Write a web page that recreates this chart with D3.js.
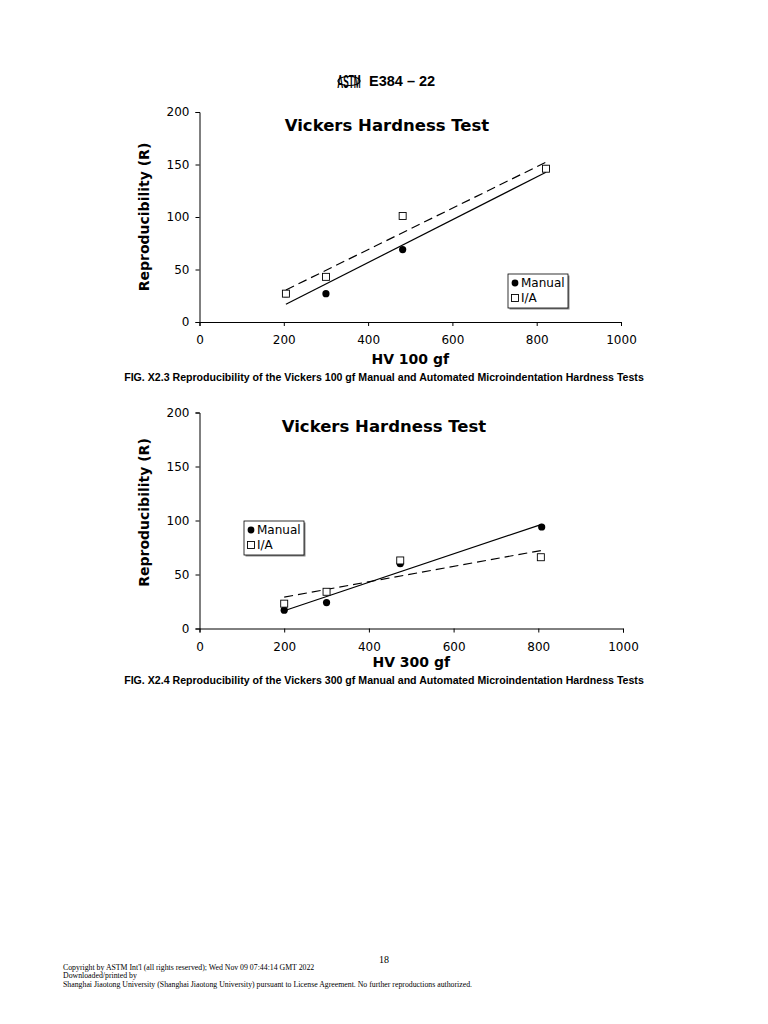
<!DOCTYPE html>
<html>
<head>
<meta charset="utf-8">
<script src="https://cdn.jsdelivr.net/npm/d3@7"></script>
<style>
  body { margin: 0; background: #fff; }
  svg { display: block; }
</style>
</head>
<body>
<div id="page"></div>
<script>
// Data
const xTicks = [0, 200, 400, 600, 800, 1000];
const yTicks = [0, 50, 100, 150, 200];

// FIG. X2.3 - HV 100 gf
const hv100ManualX = [205, 300, 482, 822];
const hv100ManualY = [27, 27, 69, 146];
const hv100IaX = [205, 300, 482, 822];
const hv100IaY = [27, 43, 101, 146];

// FIG. X2.4 - HV 300 gf
const hv300ManualX = [200, 300, 474, 808];
const hv300ManualY = [17, 24, 60, 94];
const hv300IaX = [200, 300, 474, 806];
const hv300IaY = [23, 34, 63, 66];

const W = 768, H = 1024;

const svg = d3.select('#page')
  .append('svg')
  .attr('width', W)
  .attr('height', H);

// least squares trendline, like the spreadsheet did
function trend(xs, ys) {
  const mx = d3.mean(xs), my = d3.mean(ys);
  const sxy = d3.sum(xs, (x, i) => (x - mx) * (ys[i] - my));
  const sxx = d3.sum(xs, x => (x - mx) * (x - mx));
  const slope = sxy / sxx;
  const b = my - slope * mx;
  const x0 = d3.min(xs), x1 = d3.max(xs);
  return [[x0, slope * x0 + b], [x1, slope * x1 + b]];
}

function drawChart(opt) {
  const x = d3.scaleLinear().domain([0, 1000]).range([opt.left, opt.right]);
  const y = d3.scaleLinear().domain([0, 200]).range([opt.bottom, opt.top]);

  const g = svg.append('g');

  // axes
  const xAxis = d3.axisBottom(x).tickValues(xTicks).tickFormat(d3.format('d')).tickSize(4).tickPadding(6);
  const xg = g.append('g')
    .attr('transform', `translate(0,${opt.bottom})`)
    .call(xAxis);
  const yAxis = d3.axisLeft(y).tickValues(yTicks).tickFormat(d3.format('d')).tickSize(4).tickPadding(6);
  const yg = g.append('g')
    .attr('transform', `translate(${opt.left},0)`)
    .call(yAxis);

  [xg, yg].forEach(a => {
    a.select('.domain').attr('stroke', '#000');
    a.selectAll('.tick line').attr('stroke', '#000');
    a.selectAll('text')
      .attr('fill', '#000')
      .style('font-family', 'DejaVu Sans, Verdana, sans-serif')
      .style('font-size', '12px');
  });
  xg.selectAll('text').attr('dy', '1em');

  // trendlines
  const line = d3.line().x(d => x(d[0])).y(d => y(d[1]));
  g.append('path')
    .attr('d', line(trend(opt.manualX, opt.manualY)))
    .attr('stroke', '#000')
    .attr('stroke-width', 1.2)
    .attr('fill', 'none');
  g.append('path')
    .attr('d', line(trend(opt.iaX, opt.iaY)))
    .attr('stroke', '#000')
    .attr('stroke-width', 1.2)
    .attr('stroke-dasharray', '9,5')
    .attr('fill', 'none');

  // manual dots first, squares are drawn over them
  g.selectAll('circle.manual')
    .data(opt.manualX)
    .enter()
    .append('circle')
    .attr('class', 'manual')
    .attr('cx', d => x(d))
    .attr('cy', (d, i) => y(opt.manualY[i]))
    .attr('r', 3.6)
    .attr('fill', '#000');

  // I/A squares
  g.selectAll('rect.ia')
    .data(opt.iaX)
    .enter()
    .append('rect')
    .attr('class', 'ia')
    .attr('x', d => x(d) - 3.5)
    .attr('y', (d, i) => y(opt.iaY[i]) - 3.5)
    .attr('width', 7)
    .attr('height', 7)
    .attr('fill', '#fff')
    .attr('stroke', '#000')
    .attr('stroke-width', 0.9);

  // title
  g.append('text')
    .attr('x', opt.titleX)
    .attr('y', opt.top + 19)
    .attr('text-anchor', 'middle')
    .style('font-family', 'DejaVu Sans, Verdana, sans-serif')
    .style('font-weight', 'bold')
    .style('font-size', '16.5px')
    .text('Vickers Hardness Test');

  // axis titles
  g.append('text')
    .attr('x', (opt.left + opt.right) / 2)
    .attr('y', opt.bottom + opt.xLabelDy)
    .attr('text-anchor', 'middle')
    .style('font-family', 'DejaVu Sans, Verdana, sans-serif')
    .style('font-weight', 'bold')
    .style('font-size', '14px')
    .text(opt.xLabel);

  g.append('text')
    .attr('transform', `translate(${opt.left - 51},${(opt.top + opt.bottom) / 2 + opt.yLabelDy}) rotate(-90)`)
    .attr('text-anchor', 'middle')
    .style('font-family', 'DejaVu Sans, Verdana, sans-serif')
    .style('font-weight', 'bold')
    .style('font-size', '14px')
    .text('Reproducibility (R)');

  // legend
  const lg = g.append('g').attr('transform', `translate(${opt.legendX},${opt.legendY})`);
  lg.append('rect')
    .attr('x', 1.5).attr('y', 1.5)
    .attr('width', 60).attr('height', 34)
    .attr('fill', '#888');
  lg.append('rect')
    .attr('width', 60).attr('height', 34)
    .attr('fill', '#fff')
    .attr('stroke', '#000')
    .attr('stroke-width', 0.8);
  lg.append('circle').attr('cx', 7).attr('cy', 9).attr('r', 3.4).attr('fill', '#000');
  lg.append('rect').attr('x', 3.5).attr('y', 20.5).attr('width', 7).attr('height', 7)
    .attr('fill', '#fff').attr('stroke', '#000').attr('stroke-width', 0.9);
  lg.selectAll('text.leg')
    .data(['Manual', 'I/A'])
    .enter()
    .append('text')
    .attr('class', 'leg')
    .attr('x', 13)
    .attr('y', (d, i) => 13 + i * 15)
    .style('font-family', 'DejaVu Sans, Verdana, sans-serif')
    .style('font-size', '12px')
    .text(d => d);

  // caption
  g.append('text')
    .attr('x', 384)
    .attr('y', opt.captionY)
    .attr('text-anchor', 'middle')
    .style('font-family', 'Liberation Sans, Arial, sans-serif')
    .style('font-weight', 'bold')
    .style('font-size', '10.6px')
    .text(opt.caption);
}

drawChart({
  left: 199.5, right: 621, top: 112, bottom: 322,
  titleX: 387, xLabel: 'HV 100 gf', xLabelDy: 42, yLabelDy: 0,
  manualX: hv100ManualX, manualY: hv100ManualY,
  iaX: hv100IaX, iaY: hv100IaY,
  legendX: 508, legendY: 274,
  captionY: 381,
  caption: 'FIG. X2.3 Reproducibility of the Vickers 100 gf Manual and Automated Microindentation Hardness Tests'
});

drawChart({
  left: 199.5, right: 623, top: 412.5, bottom: 628.5,
  titleX: 384, xLabel: 'HV 300 gf', xLabelDy: 38, yLabelDy: -8,
  manualX: hv300ManualX, manualY: hv300ManualY,
  iaX: hv300IaX, iaY: hv300IaY,
  legendX: 244, legendY: 521,
  captionY: 684,
  caption: 'FIG. X2.4 Reproducibility of the Vickers 300 gf Manual and Automated Microindentation Hardness Tests'
});

// header: ASTM mark + designation
const logo = svg.append('g').attr('transform', 'translate(349,81)');
logo.append('ellipse').attr('rx', 11).attr('ry', 4.5).attr('fill', 'none').attr('stroke', '#000').attr('stroke-width', 1.2);
logo.append('text')
  .attr('text-anchor', 'middle')
  .attr('y', 4)
  .style('font-family', 'Liberation Sans, Arial, sans-serif')
  .style('font-weight', 'bold')
  .style('font-size', '11px')
  .attr('transform', 'scale(0.75,1.7)')
  .text('ASTM');
svg.append('text')
  .attr('x', 369)
  .attr('y', 86)
  .style('font-family', 'Liberation Sans, Arial, sans-serif')
  .style('font-weight', 'bold')
  .style('font-size', '14.5px')
  .text('E384 \u2013 22');

// footer
svg.append('text')
  .attr('x', 384).attr('y', 963)
  .attr('text-anchor', 'middle')
  .style('font-family', 'Liberation Serif, Times New Roman, serif')
  .style('font-size', '10px')
  .text('18');
const footer = [
  "Copyright by ASTM Int'l (all rights reserved); Wed Nov 09 07:44:14 GMT 2022",
  'Downloaded/printed by',
  'Shanghai Jiaotong University (Shanghai Jiaotong University) pursuant to License Agreement. No further reproductions authorized.'
];
svg.selectAll('text.foot')
  .data(footer)
  .enter()
  .append('text')
  .attr('class', 'foot')
  .attr('x', 63)
  .attr('y', (d, i) => 970 + i * 8.3)
  .style('font-family', 'Liberation Serif, Times New Roman, serif')
  .style('font-size', '7.8px')
  .text(d => d);
</script>
</body>
</html>
